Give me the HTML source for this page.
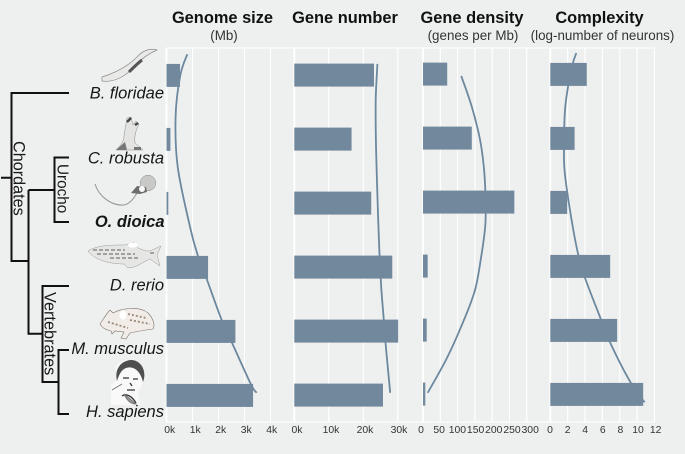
<!DOCTYPE html>
<html>
<head>
<meta charset="utf-8">
<style>
html,body{margin:0;padding:0;background:#eef0f0;}
svg{display:block;font-family:"Liberation Sans",sans-serif;}
</style>
</head>
<body>
<svg id="chart" width="685" height="454" viewBox="0 0 685 454">
<rect width="685" height="454" fill="#eef0f0"/>

<g id="tree" fill="none" stroke="#111" stroke-width="2">
  <path d="M1 177.7H11.500M69 93H11.500V261H28.500M28.500 190V333.700H42M28.500 190H54M69 157.500H54.500V222H69M69 286H42.500V382H58.500M69 350H58.500V414H69"/>
</g>
<g fill="#1a1a1a">
  <text transform="translate(13.500,141) rotate(90)" font-size="16.200">Chordates</text>
  <text transform="translate(57.500,164) rotate(90)" font-size="15.300">Urocho</text>
  <text transform="translate(44.500,292) rotate(90)" font-size="16.300">Vertebrates</text>
</g>

<g>
  <g>
    <path d="M102 81C115 83 127 75 135 66C142 58 150 53 157 50C151 48 143 50 137 57C128 66 115 73 102 77Z" fill="#e9e9e7" stroke="#8a8a8a" stroke-width=".7"/>
    <path d="M129 72C134 67 138 63 142 60" stroke="#555" stroke-width="3" fill="none"/>
  </g>
  <g>
    <path d="M116 150C120 146 124 142 124 136C125 130 126 124 127 118L131 117L133 125L136 121L139 124C136 130 134 136 135 143C138 146 141 147 143 150Z" fill="#e4e4e2" stroke="#888" stroke-width=".5"/>
    <path d="M127 122L131 118M135 125L138 123" stroke="#444" stroke-width="2.400"/>
    <path d="M116 150L125 142L127 150ZM134 147H141V150H134Z" fill="#777"/>
  </g>
  <g>
    <path d="M95 184C99 197 112 206 124 205C130 204 134 198 137 193" fill="none" stroke="#9a9a9a" stroke-width="1.100"/>
    <circle cx="148" cy="183" r="7.800" fill="#c9c9c7" stroke="#888" stroke-width=".5"/>
    <path d="M131 193L137 186L146 187L147 192L140 194Z" fill="#6e6e6e"/>
    <circle cx="142" cy="189" r="3" fill="#f8f8f8"/>
  </g>
  <g>
    <path d="M88 251C97 245 113 245 125 245L134 242L138 248C145 251 148 252 152 250L161 246L157 255L160 266L150 259C143 262 140 265 134 267L128 268L124 264C112 264 95 261 88 251Z" fill="#e6e6e4" stroke="#999" stroke-width=".5"/>
    <path d="M93 250H125M97 254H135M110 258H138M150 253H156" stroke="#8a8a8a" stroke-width="1.400" stroke-dasharray="4 2"/>
    <ellipse cx="133" cy="245" rx="5" ry="2.600" fill="#fff"/>
  </g>
  <g>
    <path d="M100 324C104 318 107 313 110 310L113 313C122 308 140 306 148 313C154 319 155 326 153 329L146 330C140 331 134 332 130 333L126 339L121 338L124 332L115 331L112 334L111 331C106 330 102 328 100 324Z" fill="#f1ece7" stroke="#7d7369" stroke-width=".6"/>
    <path d="M128 314L146 318M130 320L150 324M108 322L128 328" stroke="#9c8a7a" stroke-width="1.800" stroke-dasharray="2 2"/>
    <ellipse cx="123" cy="315" rx="3.600" ry="4.600" fill="#fff"/>
  </g>
  <g>
    <path d="M111 385L117 380L116 368C118 362 124 360 130 360C140 360 145 369 144 378C142 384 141 388 138 392L140 405H111Z" fill="#f9f9f9"/>
    <path d="M117 381C114 368 122 360 132 360C142 361 147 372 143 382C141 373 135 365 126 368C121 370 119 375 117 381Z" fill="#4f4f4f"/>
    <path d="M123 378H129M133 379H138M130 383L132 386M127 390H135M122 396C126 393 132 396 136 403" stroke="#333" stroke-width="1.300" fill="none"/>
    <path d="M124 394C127 400 130 404 136 404L129 398ZM112 390L122 384" stroke="#777" stroke-width="1" fill="#999"/>
  </g>
</g>

<g fill="#161616" font-style="italic" font-size="16.500" text-anchor="end">
  <text x="164" y="98.500">B. floridae</text>
  <text x="164" y="163.500">C. robusta</text>
  <text x="164.500" y="227" font-weight="bold">O. dioica</text>
  <text x="164" y="290.500">D. rerio</text>
  <text x="164" y="354">M. musculus</text>
  <text x="164" y="417">H. sapiens</text>
</g>

<g fill="#111" font-weight="bold" font-size="16.400" text-anchor="middle">
  <text x="222.500" y="23">Genome size</text>
  <text x="345" y="23">Gene number</text>
  <text x="472" y="23">Gene density</text>
  <text x="599.500" y="23">Complexity</text>
</g>
<g fill="#333" font-size="13.400" text-anchor="middle">
  <text x="224" y="40">(Mb)</text>
  <text x="473" y="40">(genes per Mb)</text>
  <text x="602.500" y="40">(log-number of neurons)</text>
</g>
<g id="plots"></g>
</svg>

<script>
// Bar values, top row to bottom row: B. floridae, C. robusta, O. dioica, D. rerio, M. musculus, H. sapiens
var genomeBars = [0.52, 0.15, 0.07, 1.6, 2.65, 3.33];
var geneBars = [23.1, 16.6, 22.3, 28.4, 30.1, 25.7];
var densityBars = [70, 141, 264, 13.5, 10.7, 6.7];
var complexityBars = [4.2, 2.8, 1.95, 6.9, 7.7, 10.7];

// Tick labels
var genomeTicks = [0, 1, 2, 3, 4];
var geneTicks = [0, 10, 20, 30];
var densityTicks = [0, 50, 100, 150, 200, 250, 300];
var complexityTicks = [0, 2, 4, 6, 8, 10, 12];

// Trend curves: position along the species axis (row units) and value
var genomeTrendRows = [-0.33, 0, 0.645, 1.43, 2.36, 2.81, 3.15, 3.8, 4.16, 4.82, 4.96];
var genomeTrendValues = [0.8, 0.53, 0.35, 0.43, 0.9, 1.2, 1.52, 2.1, 2.5, 3.24, 3.47];
var geneTrendRows = [-0.18, 0.38, 1.17, 2.21, 2.79, 3.31, 3.8, 4.16, 4.96];
var geneTrendValues = [24.1, 23.6, 23.7, 24.3, 24.7, 25.2, 25.9, 26.4, 27.8];
var densityTrendRows = [0.01, 0.49, 1.01, 1.48, 1.95, 2.36, 2.84, 3.36, 3.88, 4.43, 4.96];
var densityTrendValues = [110.7, 141, 165, 176.6, 181, 179.8, 168, 150, 114, 68, 13.6];
var complexityTrendRows = [-0.35, -0.19, 0.15, 0.54, 1.01, 1.43, 1.82, 2.36, 2.79, 3.15, 3.79, 4.16, 4.8, 5.11];
var complexityTrendValues = [3.0, 2.6, 2.07, 1.69, 1.58, 1.61, 1.95, 2.58, 3.2, 3.96, 5.77, 6.84, 9.26, 10.87];

var NS = 'http://www.w3.org/2000/svg';
var plots = document.getElementById('plots');
var plotTop = 48, plotBottom = 422, plotRight = 655;
var barColor = '#72899d', lineColor = '#6c889e';

function rowY(row, shift) { return 75.4 + 64 * row + shift; }

function curvePath(pts) {
  var d = 'M' + pts[0][0].toFixed(1) + ' ' + pts[0][1].toFixed(1);
  for (var i = 0; i < pts.length - 1; i++) {
    var p0 = pts[Math.max(i - 1, 0)], p1 = pts[i], p2 = pts[i + 1], p3 = pts[Math.min(i + 2, pts.length - 1)];
    d += 'C' + (p1[0] + (p2[0] - p0[0]) / 6).toFixed(1) + ' ' + (p1[1] + (p2[1] - p0[1]) / 6).toFixed(1) +
      ' ' + (p2[0] - (p3[0] - p1[0]) / 6).toFixed(1) + ' ' + (p2[1] - (p3[1] - p1[1]) / 6).toFixed(1) +
      ' ' + p2[0].toFixed(1) + ' ' + p2[1].toFixed(1);
  }
  return d;
}

function drawPanel(cfg) {
  var g = document.createElementNS(NS, 'g');
  
  
  plots.appendChild(g);
  var x = function (v) { return cfg.x0 + v * cfg.scale; };

  cfg.ticks.forEach(function (t, i) {
    var line = document.createElementNS(NS, 'line');
    
    
    line.setAttribute('x1', x(t));
    line.setAttribute('x2', x(t));
    line.setAttribute('y1', plotTop);
    line.setAttribute('y2', plotBottom);
    line.setAttribute('stroke', '#ffffff');
    line.setAttribute('stroke-width', i === 0 ? 1.8 : 1.1);
    g.appendChild(line);

    var label = document.createElementNS(NS, 'text');
    
    
    label.setAttribute('x', cfg.labelX0 + t * cfg.labelScale);
    label.setAttribute('y', 433);
    label.setAttribute('text-anchor', 'middle');
    label.setAttribute('font-size', '10.4');
    label.setAttribute('fill', '#333');
    label.textContent = t + cfg.suffix;
    g.appendChild(label);
  });

  var pts = cfg.trendRows.map(function (r, i) { return [x(cfg.trendValues[i]), rowY(r, 0)]; });
  var curve = document.createElementNS(NS, 'path');
  
  
  curve.setAttribute('d', curvePath(pts));
  curve.setAttribute('fill', 'none');
  curve.setAttribute('stroke', lineColor);
  curve.setAttribute('stroke-width', '1.8');
  g.appendChild(curve);

  cfg.bars.forEach(function (v, i) {
    var bar = document.createElementNS(NS, 'rect');
    
    
    bar.setAttribute('x', cfg.x0);
    bar.setAttribute('y', rowY(i, cfg.shift) - 11.5);
    bar.setAttribute('width', Math.max(v * cfg.scale, 0));
    bar.setAttribute('height', 23);
    bar.setAttribute('fill', barColor);
    g.appendChild(bar);
  });
}

var frame = document.createElementNS(NS, 'path');


frame.setAttribute('d', 'M166 ' + plotTop + 'H' + plotRight + 'M166 ' + plotBottom + 'H' + plotRight);
frame.setAttribute('stroke', '#ffffff');
frame.setAttribute('stroke-width', '1.1');
plots.appendChild(frame);

drawPanel({ name: 'genome-size', x0: 166.5, scale: 26, bars: genomeBars, ticks: genomeTicks, suffix: 'k',
  trendRows: genomeTrendRows, trendValues: genomeTrendValues, shift: 0, labelX0: 169.7, labelScale: 25.5 });
drawPanel({ name: 'gene-number', x0: 294.3, scale: 3.45, bars: geneBars, ticks: geneTicks, suffix: 'k',
  trendRows: geneTrendRows, trendValues: geneTrendValues, shift: -0.3, labelX0: 297, labelScale: 3.4 });
drawPanel({ name: 'gene-density', x0: 423, scale: 0.346, bars: densityBars, ticks: densityTicks, suffix: '',
  trendRows: densityTrendRows, trendValues: densityTrendValues, shift: -1.3, labelX0: 421, labelScale: 0.364 });
drawPanel({ name: 'complexity', x0: 550.3, scale: 8.68, bars: complexityBars, ticks: complexityTicks, suffix: '',
  trendRows: complexityTrendRows, trendValues: complexityTrendValues, shift: -1, labelX0: 550, labelScale: 8.8 });
</script>
</body>
</html>
